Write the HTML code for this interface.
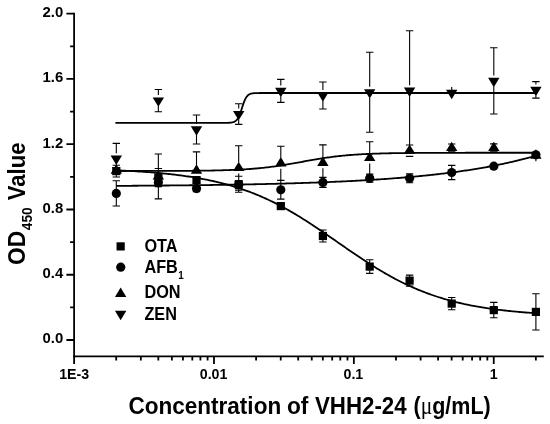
<!DOCTYPE html>
<html lang="en"><head><meta charset="utf-8"><title>OD450 vs Concentration of VHH2-24</title>
<style>html,body{margin:0;padding:0;background:#fff}body{width:550px;height:424px;overflow:hidden}</style></head>
<body>
<svg width="550" height="424" viewBox="0 0 550 424" style="display:block">
<rect width="550" height="424" fill="#fff"/>
<g stroke="#000" fill="none" stroke-linecap="butt">
<path d="M74.1 12.75V357.25" stroke-width="1.8"/>
<path d="M73.19999999999999 356.35H543.8" stroke-width="1.8"/>
<path d="M66.40 340.00H74.1M70.10 307.37H74.1M66.40 274.74H74.1M70.10 242.11H74.1M66.40 209.48H74.1M70.10 176.85H74.1M66.40 144.22H74.1M70.10 111.59H74.1M66.40 78.96H74.1M70.10 46.33H74.1M66.40 13.70H74.1" stroke-width="1.8"/>
<path d="M74.10 356.35V363.95M116.21 356.35V360.55M140.84 356.35V360.55M158.32 356.35V360.55M171.87 356.35V360.55M182.95 356.35V360.55M192.31 356.35V360.55M200.42 356.35V360.55M207.58 356.35V360.55M213.98 356.35V363.95M256.09 356.35V360.55M280.72 356.35V360.55M298.20 356.35V360.55M311.75 356.35V360.55M322.83 356.35V360.55M332.19 356.35V360.55M340.30 356.35V360.55M347.46 356.35V360.55M353.86 356.35V363.95M395.97 356.35V360.55M420.60 356.35V360.55M438.08 356.35V360.55M451.63 356.35V360.55M462.71 356.35V360.55M472.07 356.35V360.55M480.18 356.35V360.55M487.34 356.35V360.55M493.74 356.35V363.95M535.85 356.35V360.55" stroke-width="1.8"/>
<path d="M116.30 143.40V153.20M116.30 164.20V174.00M112.60 143.40H120.00M112.60 174.00H120.00M158.35 89.50V95.10M158.35 106.10V111.70M154.65 89.50H162.05M154.65 111.70H162.05M196.50 115.00V124.00M196.50 135.00V144.00M192.80 115.00H200.20M192.80 144.00H200.20M238.70 103.80V108.60M238.70 119.60V124.40M235.00 103.80H242.40M235.00 124.40H242.40M280.80 79.40V85.40M280.80 96.40V102.40M277.10 79.40H284.50M277.10 102.40H284.50M322.90 82.00V90.00M322.90 101.00V109.00M319.20 82.00H326.60M319.20 109.00H326.60M369.70 52.30V86.80M369.70 97.80V132.30M366.00 52.30H373.40M366.00 132.30H373.40M409.60 30.70V85.20M409.60 96.20V150.70M405.90 30.70H413.30M405.90 150.70H413.30M493.80 47.80V75.40M493.80 86.40V114.00M490.10 47.80H497.50M490.10 114.00H497.50M535.90 81.65V84.40M535.90 95.40V98.15M532.20 81.65H539.60M532.20 98.15H539.60M112.60 167.50H120.00M112.60 173.50H120.00M158.35 153.95V170.90M158.35 181.90V198.85M154.65 153.95H162.05M154.65 198.85H162.05M196.50 151.90V165.10M196.50 176.10V189.30M192.80 151.90H200.20M192.80 189.30H200.20M238.70 145.70V162.40M238.70 173.40V190.10M235.00 145.70H242.40M235.00 190.10H242.40M280.80 146.30V157.80M280.80 168.80V180.30M277.10 146.30H284.50M277.10 180.30H284.50M322.90 144.90V157.30M322.90 168.30V180.70M319.20 144.90H326.60M319.20 180.70H326.60M369.70 141.80V152.40M369.70 163.40V174.00M366.00 141.80H373.40M366.00 174.00H373.40M409.60 145.05V145.20M409.60 156.20V156.35M405.90 145.05H413.30M405.90 156.35H413.30M448.00 144.00H455.40M448.00 151.80H455.40M490.10 143.90H497.50M490.10 151.90H497.50M116.30 180.80V206.00M112.60 180.80H120.00M112.60 206.00H120.00M158.35 178.70V186.70M154.65 178.70H162.05M154.65 186.70H162.05M196.50 185.60V191.60M192.80 185.60H200.20M192.80 191.60H200.20M238.70 180.50V188.50M235.00 180.50H242.40M235.00 188.50H242.40M280.80 180.50V199.10M277.10 180.50H284.50M277.10 199.10H284.50M322.90 177.40V187.40M319.20 177.40H326.60M319.20 187.40H326.60M369.70 174.30V182.30M366.00 174.30H373.40M366.00 182.30H373.40M409.60 173.90V182.70M405.90 173.90H413.30M405.90 182.70H413.30M451.70 165.40V179.60M448.00 165.40H455.40M448.00 179.60H455.40M116.30 165.20V177.00M112.60 165.20H120.00M112.60 177.00H120.00M158.35 168.50V186.50M154.65 168.50H162.05M154.65 186.50H162.05M196.50 177.10V183.10M192.80 177.10H200.20M192.80 183.10H200.20M238.70 176.30V192.30M235.00 176.30H242.40M235.00 192.30H242.40M280.80 204.10V208.10M277.10 204.10H284.50M277.10 208.10H284.50M322.90 230.00V242.00M319.20 230.00H326.60M319.20 242.00H326.60M369.70 259.80V273.40M366.00 259.80H373.40M366.00 273.40H373.40M409.60 275.10V286.10M405.90 275.10H413.30M405.90 286.10H413.30M451.70 297.50V309.70M448.00 297.50H455.40M448.00 309.70H455.40M493.80 302.40V317.80M490.10 302.40H497.50M490.10 317.80H497.50M535.90 293.80V330.00M532.20 293.80H539.60M532.20 330.00H539.60M451.7 87V90M535.9 158V161.2" stroke-width="1.1"/>
<path d="M116.3 170.30L117.8 170.36L119.3 170.43L120.8 170.50L122.3 170.57L123.8 170.64L125.3 170.71L126.8 170.79L128.3 170.87L129.8 170.95L131.3 171.03L132.8 171.11L134.3 171.20L135.8 171.29L137.3 171.38L138.8 171.48L140.3 171.57L141.8 171.67L143.3 171.78L144.8 171.88L146.3 171.99L147.8 172.10L149.3 172.21L150.8 172.33L152.3 172.45L153.8 172.57L155.3 172.70L156.8 172.83L158.3 172.96L159.8 173.10L161.3 173.24L162.8 173.39L164.3 173.53L165.8 173.69L167.3 173.84L168.8 174.00L170.3 174.17L171.8 174.33L173.3 174.51L174.8 174.68L176.3 174.87L177.8 175.05L179.3 175.24L180.8 175.44L182.3 175.64L183.8 175.85L185.3 176.06L186.8 176.28L188.3 176.50L189.8 176.73L191.3 176.96L192.8 177.20L194.3 177.45L195.8 177.70L197.3 177.96L198.8 178.22L200.3 178.49L201.8 178.77L203.3 179.06L204.8 179.35L206.3 179.65L207.8 179.95L209.3 180.26L210.8 180.58L212.3 180.91L213.8 181.25L215.3 181.59L216.8 181.94L218.3 182.30L219.8 182.67L221.3 183.04L222.8 183.43L224.3 183.82L225.8 184.22L227.3 184.64L228.8 185.05L230.3 185.48L231.8 185.92L233.3 186.37L234.8 186.83L236.3 187.30L237.8 187.77L239.3 188.26L240.8 188.76L242.3 189.26L243.8 189.78L245.3 190.31L246.8 190.85L248.3 191.40L249.8 191.96L251.3 192.53L252.8 193.11L254.3 193.70L255.8 194.30L257.3 194.92L258.8 195.54L260.3 196.18L261.8 196.83L263.3 197.48L264.8 198.15L266.3 198.84L267.8 199.53L269.3 200.23L270.8 200.95L272.3 201.67L273.8 202.41L275.3 203.16L276.8 203.92L278.3 204.69L279.8 205.48L281.3 206.27L282.8 207.07L284.3 207.89L285.8 208.71L287.3 209.55L288.8 210.40L290.3 211.25L291.8 212.12L293.3 213.00L294.8 213.89L296.3 214.78L297.8 215.69L299.3 216.60L300.8 217.53L302.3 218.46L303.8 219.40L305.3 220.35L306.8 221.31L308.3 222.27L309.8 223.25L311.3 224.23L312.8 225.21L314.3 226.20L315.8 227.20L317.3 228.21L318.8 229.22L320.3 230.23L321.8 231.25L323.3 232.27L324.8 233.30L326.3 234.33L327.8 235.37L329.3 236.41L330.8 237.44L332.3 238.49L333.8 239.53L335.3 240.57L336.8 241.62L338.3 242.66L339.8 243.71L341.3 244.75L342.8 245.80L344.3 246.84L345.8 247.88L347.3 248.92L348.8 249.95L350.3 250.98L351.8 252.01L353.3 253.04L354.8 254.06L356.3 255.08L357.8 256.09L359.3 257.10L360.8 258.10L362.3 259.09L363.8 260.08L365.3 261.06L366.8 262.04L368.3 263.01L369.8 263.97L371.3 264.92L372.8 265.87L374.3 266.80L375.8 267.73L377.3 268.65L378.8 269.56L380.3 270.46L381.8 271.35L383.3 272.23L384.8 273.11L386.3 273.97L387.8 274.82L389.3 275.66L390.8 276.49L392.3 277.31L393.8 278.12L395.3 278.92L396.8 279.70L398.3 280.48L399.8 281.25L401.3 282.00L402.8 282.74L404.3 283.47L405.8 284.19L407.3 284.90L408.8 285.60L410.3 286.29L411.8 286.96L413.3 287.63L414.8 288.28L416.3 288.92L417.8 289.55L419.3 290.17L420.8 290.78L422.3 291.37L423.8 291.96L425.3 292.53L426.8 293.10L428.3 293.65L429.8 294.20L431.3 294.73L432.8 295.25L434.3 295.76L435.8 296.26L437.3 296.75L438.8 297.24L440.3 297.71L441.8 298.17L443.3 298.62L444.8 299.06L446.3 299.50L447.8 299.92L449.3 300.34L450.8 300.74L452.3 301.14L453.8 301.53L455.3 301.91L456.8 302.28L458.3 302.64L459.8 303.00L461.3 303.34L462.8 303.68L464.3 304.01L465.8 304.34L467.3 304.65L468.8 304.96L470.3 305.26L471.8 305.56L473.3 305.84L474.8 306.12L476.3 306.40L477.8 306.67L479.3 306.93L480.8 307.18L482.3 307.43L483.8 307.67L485.3 307.91L486.8 308.14L488.3 308.37L489.8 308.58L491.3 308.80L492.8 309.01L494.3 309.21L495.8 309.41L497.3 309.60L498.8 309.79L500.3 309.98L501.8 310.16L503.3 310.33L504.8 310.50L506.3 310.67L507.8 310.83L509.3 310.99L510.8 311.14L512.3 311.29L513.8 311.44L515.3 311.58L516.8 311.72L518.3 311.85L519.8 311.98L521.3 312.11L522.8 312.24L524.3 312.36L525.8 312.48L527.3 312.59L528.8 312.70L530.3 312.81L531.8 312.92L533.3 313.02L534.8 313.12" stroke-width="1.8" stroke-linejoin="round"/>
<path d="M116.3 170.98L117.8 170.98L119.3 170.98L120.8 170.98L122.3 170.98L123.8 170.98L125.3 170.98L126.8 170.97L128.3 170.97L129.8 170.97L131.3 170.97L132.8 170.97L134.3 170.97L135.8 170.97L137.3 170.97L138.8 170.96L140.3 170.96L141.8 170.96L143.3 170.96L144.8 170.96L146.3 170.96L147.8 170.95L149.3 170.95L150.8 170.95L152.3 170.95L153.8 170.94L155.3 170.94L156.8 170.94L158.3 170.93L159.8 170.93L161.3 170.93L162.8 170.92L164.3 170.92L165.8 170.91L167.3 170.91L168.8 170.90L170.3 170.90L171.8 170.89L173.3 170.89L174.8 170.88L176.3 170.87L177.8 170.87L179.3 170.86L180.8 170.85L182.3 170.84L183.8 170.83L185.3 170.82L186.8 170.81L188.3 170.80L189.8 170.79L191.3 170.78L192.8 170.77L194.3 170.75L195.8 170.74L197.3 170.72L198.8 170.71L200.3 170.69L201.8 170.67L203.3 170.65L204.8 170.63L206.3 170.61L207.8 170.59L209.3 170.56L210.8 170.53L212.3 170.51L213.8 170.48L215.3 170.45L216.8 170.41L218.3 170.38L219.8 170.34L221.3 170.30L222.8 170.26L224.3 170.22L225.8 170.17L227.3 170.13L228.8 170.07L230.3 170.02L231.8 169.96L233.3 169.90L234.8 169.84L236.3 169.77L237.8 169.70L239.3 169.63L240.8 169.55L242.3 169.47L243.8 169.38L245.3 169.29L246.8 169.20L248.3 169.10L249.8 168.99L251.3 168.88L252.8 168.77L254.3 168.64L255.8 168.52L257.3 168.39L258.8 168.25L260.3 168.10L261.8 167.96L263.3 167.80L264.8 167.64L266.3 167.47L267.8 167.29L269.3 167.11L270.8 166.93L272.3 166.73L273.8 166.53L275.3 166.32L276.8 166.11L278.3 165.89L279.8 165.67L281.3 165.44L282.8 165.20L284.3 164.96L285.8 164.71L287.3 164.46L288.8 164.21L290.3 163.95L291.8 163.69L293.3 163.42L294.8 163.15L296.3 162.88L297.8 162.61L299.3 162.33L300.8 162.06L302.3 161.78L303.8 161.51L305.3 161.23L306.8 160.96L308.3 160.69L309.8 160.42L311.3 160.15L312.8 159.89L314.3 159.63L315.8 159.37L317.3 159.12L318.8 158.87L320.3 158.63L321.8 158.39L323.3 158.16L324.8 157.93L326.3 157.71L327.8 157.49L329.3 157.29L330.8 157.08L332.3 156.89L333.8 156.70L335.3 156.51L336.8 156.34L338.3 156.16L339.8 156.00L341.3 155.84L342.8 155.69L344.3 155.54L345.8 155.40L347.3 155.27L348.8 155.14L350.3 155.02L351.8 154.90L353.3 154.79L354.8 154.68L356.3 154.58L357.8 154.48L359.3 154.39L360.8 154.30L362.3 154.22L363.8 154.14L365.3 154.06L366.8 153.99L368.3 153.92L369.8 153.86L371.3 153.80L372.8 153.74L374.3 153.69L375.8 153.63L377.3 153.58L378.8 153.54L380.3 153.49L381.8 153.45L383.3 153.41L384.8 153.37L386.3 153.34L387.8 153.31L389.3 153.27L390.8 153.24L392.3 153.22L393.8 153.19L395.3 153.16L396.8 153.14L398.3 153.12L399.8 153.10L401.3 153.08L402.8 153.06L404.3 153.04L405.8 153.02L407.3 153.01L408.8 152.99L410.3 152.98L411.8 152.97L413.3 152.95L414.8 152.94L416.3 152.93L417.8 152.92L419.3 152.91L420.8 152.90L422.3 152.89L423.8 152.88L425.3 152.88L426.8 152.87L428.3 152.86L429.8 152.85L431.3 152.85L432.8 152.84L434.3 152.84L435.8 152.83L437.3 152.83L438.8 152.82L440.3 152.82L441.8 152.81L443.3 152.81L444.8 152.81L446.3 152.80L447.8 152.80L449.3 152.80L450.8 152.80L452.3 152.79L453.8 152.79L455.3 152.79L456.8 152.79L458.3 152.78L459.8 152.78L461.3 152.78L462.8 152.78L464.3 152.78L465.8 152.77L467.3 152.77L468.8 152.77L470.3 152.77L471.8 152.77L473.3 152.77L474.8 152.77L476.3 152.77L477.8 152.77L479.3 152.76L480.8 152.76L482.3 152.76L483.8 152.76L485.3 152.76L486.8 152.76L488.3 152.76L489.8 152.76L491.3 152.76L492.8 152.76L494.3 152.76L495.8 152.76L497.3 152.76L498.8 152.76L500.3 152.76L501.8 152.76L503.3 152.76L504.8 152.76L506.3 152.75L507.8 152.75L509.3 152.75L510.8 152.75L512.3 152.75L513.8 152.75L515.3 152.75L516.8 152.75L518.3 152.75L519.8 152.75L521.3 152.75L522.8 152.75L524.3 152.75L525.8 152.75L527.3 152.75L528.8 152.75L530.3 152.75L531.8 152.75L533.3 152.75L534.8 152.75" stroke-width="1.8" stroke-linejoin="round"/>
<path d="M116.3 185.87L117.8 185.86L119.3 185.85L120.8 185.84L122.3 185.83L123.8 185.82L125.3 185.81L126.8 185.80L128.3 185.79L129.8 185.78L131.3 185.78L132.8 185.77L134.3 185.76L135.8 185.75L137.3 185.73L138.8 185.72L140.3 185.71L141.8 185.70L143.3 185.69L144.8 185.68L146.3 185.67L147.8 185.66L149.3 185.65L150.8 185.64L152.3 185.62L153.8 185.61L155.3 185.60L156.8 185.59L158.3 185.58L159.8 185.56L161.3 185.55L162.8 185.54L164.3 185.52L165.8 185.51L167.3 185.50L168.8 185.48L170.3 185.47L171.8 185.45L173.3 185.44L174.8 185.43L176.3 185.41L177.8 185.40L179.3 185.38L180.8 185.37L182.3 185.35L183.8 185.33L185.3 185.32L186.8 185.30L188.3 185.28L189.8 185.27L191.3 185.25L192.8 185.23L194.3 185.22L195.8 185.20L197.3 185.18L198.8 185.16L200.3 185.14L201.8 185.12L203.3 185.11L204.8 185.09L206.3 185.07L207.8 185.05L209.3 185.03L210.8 185.01L212.3 184.99L213.8 184.96L215.3 184.94L216.8 184.92L218.3 184.90L219.8 184.88L221.3 184.86L222.8 184.83L224.3 184.81L225.8 184.79L227.3 184.76L228.8 184.74L230.3 184.71L231.8 184.69L233.3 184.66L234.8 184.64L236.3 184.61L237.8 184.58L239.3 184.56L240.8 184.53L242.3 184.50L243.8 184.48L245.3 184.45L246.8 184.42L248.3 184.39L249.8 184.36L251.3 184.33L252.8 184.30L254.3 184.27L255.8 184.24L257.3 184.21L258.8 184.18L260.3 184.14L261.8 184.11L263.3 184.08L264.8 184.04L266.3 184.01L267.8 183.97L269.3 183.94L270.8 183.90L272.3 183.87L273.8 183.83L275.3 183.79L276.8 183.75L278.3 183.71L279.8 183.68L281.3 183.64L282.8 183.60L284.3 183.56L285.8 183.51L287.3 183.47L288.8 183.43L290.3 183.39L291.8 183.34L293.3 183.30L294.8 183.25L296.3 183.21L297.8 183.16L299.3 183.12L300.8 183.07L302.3 183.02L303.8 182.97L305.3 182.92L306.8 182.87L308.3 182.82L309.8 182.77L311.3 182.72L312.8 182.66L314.3 182.61L315.8 182.55L317.3 182.50L318.8 182.44L320.3 182.39L321.8 182.33L323.3 182.27L324.8 182.21L326.3 182.15L327.8 182.09L329.3 182.03L330.8 181.96L332.3 181.90L333.8 181.84L335.3 181.77L336.8 181.70L338.3 181.64L339.8 181.57L341.3 181.50L342.8 181.43L344.3 181.36L345.8 181.28L347.3 181.21L348.8 181.14L350.3 181.06L351.8 180.98L353.3 180.91L354.8 180.83L356.3 180.75L357.8 180.67L359.3 180.58L360.8 180.50L362.3 180.42L363.8 180.33L365.3 180.24L366.8 180.16L368.3 180.07L369.8 179.98L371.3 179.88L372.8 179.79L374.3 179.70L375.8 179.60L377.3 179.50L378.8 179.41L380.3 179.31L381.8 179.20L383.3 179.10L384.8 179.00L386.3 178.89L387.8 178.78L389.3 178.67L390.8 178.56L392.3 178.45L393.8 178.34L395.3 178.22L396.8 178.11L398.3 177.99L399.8 177.87L401.3 177.75L402.8 177.62L404.3 177.50L405.8 177.37L407.3 177.24L408.8 177.11L410.3 176.98L411.8 176.84L413.3 176.71L414.8 176.57L416.3 176.43L417.8 176.29L419.3 176.14L420.8 176.00L422.3 175.85L423.8 175.70L425.3 175.55L426.8 175.39L428.3 175.24L429.8 175.08L431.3 174.92L432.8 174.75L434.3 174.59L435.8 174.42L437.3 174.25L438.8 174.07L440.3 173.90L441.8 173.72L443.3 173.54L444.8 173.36L446.3 173.17L447.8 172.98L449.3 172.79L450.8 172.60L452.3 172.40L453.8 172.20L455.3 172.00L456.8 171.80L458.3 171.59L459.8 171.38L461.3 171.16L462.8 170.95L464.3 170.73L465.8 170.51L467.3 170.28L468.8 170.05L470.3 169.82L471.8 169.58L473.3 169.34L474.8 169.10L476.3 168.85L477.8 168.61L479.3 168.35L480.8 168.10L482.3 167.84L483.8 167.57L485.3 167.30L486.8 167.03L488.3 166.76L489.8 166.48L491.3 166.20L492.8 165.91L494.3 165.62L495.8 165.32L497.3 165.02L498.8 164.72L500.3 164.41L501.8 164.10L503.3 163.78L504.8 163.46L506.3 163.14L507.8 162.81L509.3 162.47L510.8 162.13L512.3 161.79L513.8 161.44L515.3 161.08L516.8 160.72L518.3 160.36L519.8 159.99L521.3 159.62L522.8 159.24L524.3 158.85L525.8 158.46L527.3 158.06L528.8 157.66L530.3 157.25L531.8 156.84L533.3 156.42L534.8 155.99" stroke-width="1.8" stroke-linejoin="round"/>
<path d="M115.4 122.90L225.0 122.87L225.5 122.87L226.0 122.86L226.5 122.85L227.0 122.84L227.5 122.83L228.0 122.81L228.5 122.79L229.0 122.77L229.5 122.74L230.0 122.70L230.5 122.65L231.0 122.60L231.5 122.53L232.0 122.44L232.5 122.34L233.0 122.21L233.5 122.06L234.0 121.87L234.5 121.64L235.0 121.37L235.5 121.03L236.0 120.63L236.5 120.15L237.0 119.59L237.5 118.92L238.0 118.15L238.5 117.26L239.0 116.24L239.5 115.10L240.0 113.84L240.5 112.48L241.0 111.02L241.5 109.50L242.0 107.95L242.5 106.40L243.0 104.88L243.5 103.42L244.0 102.06L244.5 100.80L245.0 99.66L245.5 98.64L246.0 97.75L246.5 96.98L247.0 96.31L247.5 95.75L248.0 95.27L248.5 94.87L249.0 94.53L249.5 94.26L250.0 94.03L250.5 93.84L251.0 93.69L251.5 93.56L252.0 93.46L252.5 93.37L253.0 93.30L253.5 93.25L254.0 93.20L254.5 93.16L255.0 93.13L255.5 93.11L256.0 93.09L256.5 93.07L257.0 93.06L257.5 93.05L258.0 93.04L258.5 93.03L259.0 93.03L259.5 93.02L536.0 93.00" stroke-width="1.8" stroke-linejoin="round"/>
</g>
<g fill="#000">
<path d="M110.60 155.57H122.00L116.30 164.97Z"/>
<path d="M152.65 97.47H164.05L158.35 106.87Z"/>
<path d="M190.80 126.37H202.20L196.50 135.77Z"/>
<path d="M233.00 110.97H244.40L238.70 120.37Z"/>
<path d="M275.10 87.77H286.50L280.80 97.17Z"/>
<path d="M317.20 92.37H328.60L322.90 101.77Z"/>
<path d="M364.00 89.17H375.40L369.70 98.57Z"/>
<path d="M403.90 87.57H415.30L409.60 96.97Z"/>
<path d="M446.00 89.77H457.40L451.70 99.17Z"/>
<path d="M488.10 77.77H499.50L493.80 87.17Z"/>
<path d="M530.20 86.77H541.60L535.90 96.17Z"/>
<path d="M110.60 173.63H122.00L116.30 164.23Z"/>
<path d="M152.65 179.53H164.05L158.35 170.13Z"/>
<path d="M190.80 173.73H202.20L196.50 164.33Z"/>
<path d="M233.00 171.03H244.40L238.70 161.63Z"/>
<path d="M275.10 166.43H286.50L280.80 157.03Z"/>
<path d="M317.20 165.93H328.60L322.90 156.53Z"/>
<path d="M364.00 161.03H375.40L369.70 151.63Z"/>
<path d="M403.90 153.83H415.30L409.60 144.43Z"/>
<path d="M446.00 151.03H457.40L451.70 141.63Z"/>
<path d="M488.10 151.03H499.50L493.80 141.63Z"/>
<path d="M530.20 158.73H541.60L535.90 149.33Z"/>
<circle cx="116.30" cy="193.40" r="4.6"/>
<circle cx="158.35" cy="182.70" r="4.6"/>
<circle cx="196.50" cy="188.60" r="4.6"/>
<circle cx="238.70" cy="184.50" r="4.6"/>
<circle cx="280.80" cy="189.80" r="4.6"/>
<circle cx="322.90" cy="182.40" r="4.6"/>
<circle cx="369.70" cy="178.30" r="4.6"/>
<circle cx="409.60" cy="178.30" r="4.6"/>
<circle cx="451.70" cy="172.50" r="4.6"/>
<circle cx="493.80" cy="166.20" r="4.6"/>
<circle cx="535.90" cy="154.80" r="4.6"/>
<rect x="112.20" y="167.00" width="8.2" height="8.2"/>
<rect x="154.25" y="173.40" width="8.2" height="8.2"/>
<rect x="192.40" y="176.00" width="8.2" height="8.2"/>
<rect x="234.60" y="180.20" width="8.2" height="8.2"/>
<rect x="276.70" y="202.00" width="8.2" height="8.2"/>
<rect x="318.80" y="231.90" width="8.2" height="8.2"/>
<rect x="365.60" y="262.50" width="8.2" height="8.2"/>
<rect x="405.50" y="276.50" width="8.2" height="8.2"/>
<rect x="447.60" y="299.50" width="8.2" height="8.2"/>
<rect x="489.70" y="306.00" width="8.2" height="8.2"/>
<rect x="531.80" y="307.80" width="8.2" height="8.2"/>
<rect x="116.55" y="242.30" width="8.2" height="8.2"/>
<circle cx="120.75" cy="267.20" r="4.6"/>
<path d="M114.95 296.88H126.35L120.65 287.48Z"/>
<path d="M114.95 310.77H126.35L120.65 320.17Z"/>
</g>
<g font-family="'Liberation Sans', Arial, sans-serif" font-weight="bold" fill="#000">
<text transform="translate(63.3 343.30) scale(0.975 1)" font-size="15.3" text-anchor="end">0.0</text>
<text transform="translate(63.3 278.04) scale(0.975 1)" font-size="15.3" text-anchor="end">0.4</text>
<text transform="translate(63.3 212.78) scale(0.975 1)" font-size="15.3" text-anchor="end">0.8</text>
<text transform="translate(63.3 147.52) scale(0.975 1)" font-size="15.3" text-anchor="end">1.2</text>
<text transform="translate(63.3 82.26) scale(0.975 1)" font-size="15.3" text-anchor="end">1.6</text>
<text transform="translate(63.3 17.00) scale(0.975 1)" font-size="15.3" text-anchor="end">2.0</text>
<text transform="translate(74.2 378.7) scale(0.93 1)" font-size="15.3" text-anchor="middle">1E-3</text>
<text transform="translate(213.6 378.7) scale(0.93 1)" font-size="15.3" text-anchor="middle">0.01</text>
<text transform="translate(353.4 378.7) scale(0.93 1)" font-size="15.3" text-anchor="middle">0.1</text>
<text transform="translate(493.6 378.7) scale(0.93 1)" font-size="15.3" text-anchor="middle">1</text>
<text transform="translate(144.4 251.7) scale(0.93 1)" font-size="17.5">OTA</text>
<text transform="translate(144.4 272.5) scale(0.93 1)" font-size="17.5">AFB<tspan font-size="10.6" dx="0.6" dy="6.3">1</tspan></text>
<text transform="translate(144.4 298.4) scale(0.93 1)" font-size="17.5">DON</text>
<text transform="translate(144.4 319.6) scale(0.93 1)" font-size="17.5">ZEN</text>
<text transform="translate(128.4 414.0) scale(0.924 1)" font-size="24.4">Concentration</text>
<text transform="translate(287.0 414.0) scale(0.93 1)" font-size="24.4">of</text>
<text transform="translate(314.9 414.0) scale(0.915 1)" font-size="24.4">VHH2-24</text>
<text transform="translate(413.5 414.0) scale(0.882 1)" font-size="24.4">(<tspan font-family="'Liberation Serif', serif" font-weight="normal">μ</tspan>g/mL)</text>
<text transform="translate(24.9 265.0) rotate(-90) scale(0.93 1)" font-size="24.4">OD</text>
<text transform="translate(32.3 230.3) rotate(-90) scale(0.93 1)" font-size="14.9">450</text>
<text transform="translate(24.9 200.2) rotate(-90) scale(0.905 1)" font-size="24.4">Value</text>
</g>
</svg>
</body></html>
